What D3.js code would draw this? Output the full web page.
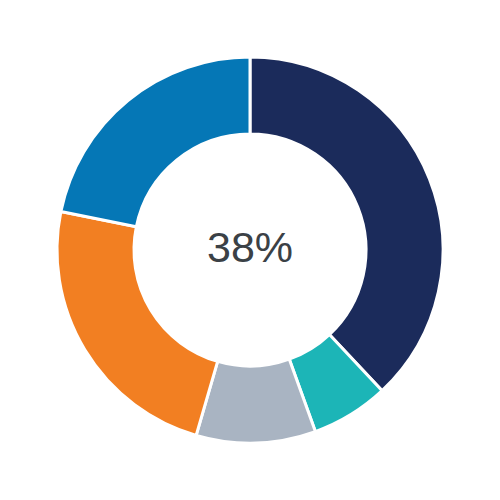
<!DOCTYPE html>
<html>
<head>
<meta charset="utf-8">
<script src="https://cdn.jsdelivr.net/npm/d3@7"></script>
<style>
  body { margin: 0; background: #fff; }
</style>
</head>
<body>
<svg id="chart" width="500" height="500"></svg>
<script>
const categories = ['A', 'B', 'C', 'D', 'E'];
const values = [38, 6.5, 10, 23.7, 21.8];
const colors = ['#1b2b5b', '#1cb5b7', '#a9b4c2', '#f27f22', '#0577b6'];
const centerLabel = '38%';

const width = 500;
const height = 500;
const outerRadius = 193;
const innerRadius = 116;

const svg = d3.select('#chart');
const g = svg.append('g').attr('transform', `translate(${width / 2}, ${height / 2})`);

const pie = d3.pie().value((d) => d).sort(null);
const arc = d3.arc().innerRadius(innerRadius).outerRadius(outerRadius);

const color = d3.scaleOrdinal().domain(categories).range(colors);

g.selectAll('path')
  .data(pie(values))
  .enter()
  .append('path')
  .attr('d', arc)
  .attr('fill', (d, i) => color(categories[i]))
  .attr('stroke', '#fff')
  .attr('stroke-width', 3);

// label in the middle
g.append('text')
  .attr('x', 0)
  .attr('y', 12)
  .attr('text-anchor', 'middle')
  .style('font', '43px "Liberation Sans", Arial, sans-serif')
  .style('fill', '#3b4146')
  .text(centerLabel);
</script>
</body>
</html>
